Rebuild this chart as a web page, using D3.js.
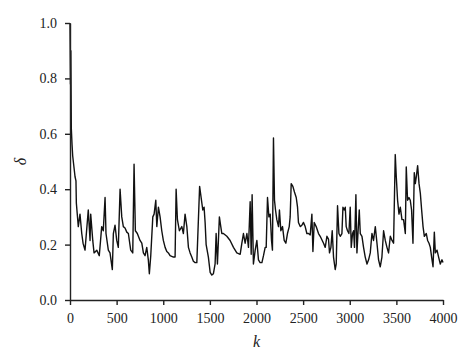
<!DOCTYPE html>
<html>
<head>
<meta charset="utf-8">
<script src="https://cdn.jsdelivr.net/npm/d3@7"></script>
<style>
  body { margin: 0; background: #fff; }
  .axis text { font-family: "Liberation Serif", "DejaVu Serif", serif; font-size: 14px; fill: #222; }
  .axis path, .axis line { stroke: #222; stroke-width: 1.4; }
  .lbl { font-family: "Liberation Serif", serif; font-style: italic; font-size: 16px; fill: #222; }
</style>
</head>
<body>
<svg id="chart" width="474" height="364"></svg>
<script>
// iteration k and the value delta
const kVals = [0, 5, 9, 14, 22, 29, 54, 64, 68, 89, 107, 126, 140, 161, 196, 215, 222, 244, 258, 287,
  314, 340, 357, 376, 386, 411, 429, 454, 465, 483, 501, 518, 537, 555, 572, 590, 609, 626, 651, 673,
  687, 701, 722, 751, 770, 787, 805, 823, 840, 851, 866, 888, 902, 920, 931, 948, 966, 984, 1001, 1020,
  1038, 1055, 1073, 1109, 1127, 1138, 1152, 1173, 1199, 1216, 1234, 1253, 1270, 1288, 1306, 1323, 1342, 1360, 1390, 1424,
  1438, 1449, 1460, 1484, 1503, 1521, 1538, 1556, 1567, 1581, 1602, 1617, 1628, 1645, 1682, 1717, 1753, 1789, 1825, 1843,
  1860, 1878, 1897, 1914, 1932, 1943, 1953, 1967, 1986, 2004, 2021, 2039, 2058, 2075, 2093, 2104, 2118, 2133, 2147, 2161,
  2171, 2182, 2193, 2204, 2218, 2236, 2246, 2261, 2279, 2297, 2315, 2332, 2351, 2361, 2372, 2390, 2407, 2426, 2440, 2450,
  2469, 2487, 2504, 2522, 2540, 2558, 2576, 2594, 2605, 2619, 2640, 2665, 2683, 2719, 2737, 2755, 2772, 2783, 2798, 2812,
  2826, 2844, 2855, 2869, 2884, 2898, 2916, 2927, 2941, 2952, 2962, 2976, 2991, 3005, 3016, 3030, 3041, 3051, 3066, 3077,
  3088, 3102, 3113, 3131, 3148, 3166, 3185, 3202, 3220, 3238, 3255, 3274, 3292, 3309, 3327, 3345, 3363, 3381, 3399, 3416,
  3435, 3453, 3470, 3488, 3499, 3513, 3528, 3542, 3560, 3577, 3596, 3606, 3620, 3635, 3649, 3663, 3678, 3692, 3703, 3714,
  3728, 3743, 3757, 3771, 3786, 3800, 3821, 3835, 3850, 3864, 3878, 3893, 3907, 3918, 3936, 3953, 3971, 3989, 4000];
const deltaVals = [1.0, 0.78, 0.9, 0.62, 0.56, 0.52, 0.445, 0.43, 0.35, 0.265, 0.31, 0.24, 0.205, 0.18, 0.325, 0.215, 0.31, 0.215, 0.17, 0.18,
  0.16, 0.265, 0.25, 0.37, 0.24, 0.18, 0.17, 0.11, 0.24, 0.27, 0.215, 0.19, 0.40, 0.30, 0.265, 0.26, 0.245, 0.24, 0.18, 0.17,
  0.49, 0.25, 0.24, 0.215, 0.205, 0.17, 0.16, 0.19, 0.145, 0.095, 0.16, 0.30, 0.31, 0.36, 0.265, 0.335, 0.30, 0.25, 0.215, 0.19,
  0.175, 0.17, 0.16, 0.155, 0.155, 0.40, 0.29, 0.25, 0.265, 0.24, 0.31, 0.265, 0.19, 0.17, 0.155, 0.14, 0.135, 0.135, 0.41, 0.325,
  0.335, 0.28, 0.20, 0.155, 0.10, 0.09, 0.095, 0.13, 0.24, 0.13, 0.30, 0.265, 0.24, 0.24, 0.23, 0.215, 0.19, 0.17, 0.165, 0.205,
  0.24, 0.205, 0.24, 0.19, 0.355, 0.165, 0.38, 0.13, 0.18, 0.215, 0.145, 0.135, 0.135, 0.16, 0.19, 0.19, 0.37, 0.30, 0.31, 0.215,
  0.18, 0.585, 0.36, 0.325, 0.29, 0.265, 0.325, 0.25, 0.265, 0.215, 0.205, 0.24, 0.265, 0.30, 0.42, 0.41, 0.39, 0.37, 0.335, 0.28,
  0.265, 0.27, 0.28, 0.265, 0.24, 0.24, 0.235, 0.31, 0.175, 0.28, 0.265, 0.24, 0.23, 0.205, 0.19, 0.23, 0.22, 0.17, 0.19, 0.25,
  0.155, 0.11, 0.13, 0.34, 0.24, 0.23, 0.24, 0.335, 0.325, 0.335, 0.265, 0.25, 0.24, 0.335, 0.19, 0.24, 0.25, 0.19, 0.38, 0.17,
  0.24, 0.325, 0.24, 0.23, 0.19, 0.155, 0.13, 0.145, 0.17, 0.24, 0.215, 0.265, 0.205, 0.145, 0.12, 0.155, 0.25, 0.215, 0.19, 0.17,
  0.23, 0.215, 0.205, 0.525, 0.445, 0.36, 0.31, 0.335, 0.29, 0.29, 0.24, 0.48, 0.36, 0.37, 0.36, 0.325, 0.205, 0.46, 0.42, 0.445,
  0.485, 0.42, 0.385, 0.325, 0.265, 0.23, 0.24, 0.215, 0.205, 0.19, 0.155, 0.12, 0.245, 0.17, 0.18, 0.155, 0.13, 0.145, 0.135];
const xTicks = [0, 500, 1000, 1500, 2000, 2500, 3000, 3500, 4000];
const yTicks = [0, 0.2, 0.4, 0.6, 0.8, 1.0];

const data = kVals.map((k, i) => ({ k: k, d: deltaVals[i] }));

const margin = { top: 23, right: 31, bottom: 64, left: 70 };
const width = 474 - margin.left - margin.right;
const height = 364 - margin.top - margin.bottom;

const x = d3.scaleLinear().domain([0, 4000]).range([0, width]);
const y = d3.scaleLinear().domain([0, 1]).range([height, 0]);

const svg = d3.select("#chart")
  .append("g")
  .attr("transform", "translate(" + margin.left + "," + margin.top + ")");

const valueline = d3.line()
  .x(d => x(d.k))
  .y(d => y(d.d));

svg.append("path")
  .datum(data)
  .attr("fill", "none")
  .attr("stroke", "#111")
  .attr("stroke-width", 1.4)
  .attr("stroke-linejoin", "round")
  .attr("d", valueline);

// x axis
svg.append("g")
  .attr("class", "axis")
  .attr("transform", "translate(0," + height + ")")
  .call(d3.axisBottom(x).tickValues(xTicks).tickSize(5).tickPadding(8).tickSizeOuter(0).tickFormat(d3.format("d")));

// y axis
svg.append("g")
  .attr("class", "axis")
  .call(d3.axisLeft(y).tickValues(yTicks).tickSize(5).tickPadding(8).tickSizeOuter(0).tickFormat(d3.format(".1f")));

svg.append("text")
  .attr("class", "lbl")
  .attr("x", width / 2)
  .attr("y", height + 47)
  .attr("text-anchor", "middle")
  .text("k");

svg.append("text")
  .attr("class", "lbl")
  .attr("transform", "translate(-44," + y(0.5) + ") rotate(-90)")
  .attr("text-anchor", "middle")
  .text("δ");
</script>
</body>
</html>
